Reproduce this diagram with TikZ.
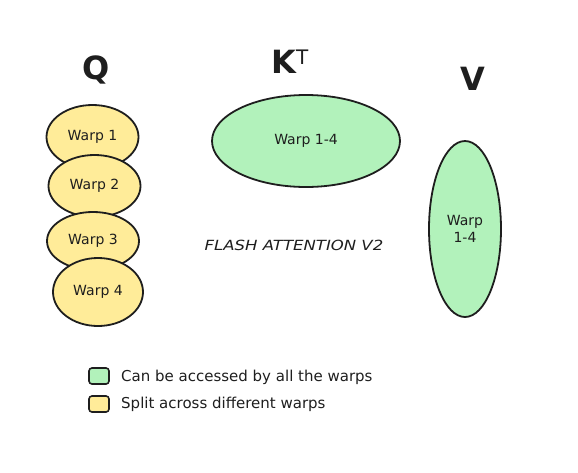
\documentclass[tikz,border=0pt]{standalone}
\usepackage{fontspec}
\setmainfont{DejaVu Sans}
\usetikzlibrary{shapes.geometric}
\definecolor{ink}{HTML}{1E1E1E}
\definecolor{yel}{HTML}{FFEC99}
\definecolor{grn}{HTML}{B2F2BB}
\tikzset{
  blob/.style={ellipse, draw=ink, line width=1.8pt, inner sep=0pt, text=ink, font=\fontsize{14}{17}\selectfont},
  yblob/.style={blob, fill=yel},
  gblob/.style={blob, fill=grn},
  bigletter/.style={text=ink, font=\bfseries\fontsize{32}{36}\selectfont, inner sep=0pt},
  legbox/.style={draw=ink, line width=1.6pt, rounded corners=3pt, minimum width=20pt, minimum height=16pt, inner sep=0pt},
  legtext/.style={anchor=west, text=ink, font=\fontsize{15}{17}\selectfont, inner sep=0pt}
}
\begin{document}
\begin{tikzpicture}[x=1pt,y=-1pt]
\useasboundingbox (0,0) rectangle (578,472);
% Q column
\node[bigletter] (q) at (96,70) {Q};
\node[yblob, minimum width=92pt, minimum height=64pt] (w1) at (92.5,137) {Warp 1};
\node[yblob, minimum width=92pt, minimum height=62pt] (w2) at (94.5,186) {Warp 2};
\node[yblob, minimum width=92pt, minimum height=58pt] (w3) at (93,241) {Warp 3};
\node[yblob, minimum width=90pt, minimum height=68pt] (w4) at (98,292) {Warp 4};
% K^T
\node[bigletter] (k) at (290,62) {K\textsuperscript{\normalfont\fontsize{20}{20}\selectfont T}};
\node[gblob, minimum width=188pt, minimum height=92pt] (kb) at (306,141) {Warp 1-4};
% V
\node[bigletter] (v) at (473,79) {V};
\node[gblob, minimum width=72pt, minimum height=176pt, align=center] (vb) at (465,229) {Warp\\1-4};
% title
\node[text=ink, inner sep=0pt] (title) at (294,245) {\scalebox{1.18}[1]{\fontsize{14}{16}\selectfont\itshape FLASH ATTENTION V2}};
% legend
\node[legbox, fill=grn] (lg) at (99,376) {};
\node[legtext] (lgt) at (121,377) {Can be accessed by all the warps};
\node[legbox, fill=yel] (ly) at (99,404) {};
\node[legtext] (lyt) at (121,404) {Split across different warps};
\end{tikzpicture}
\end{document}
